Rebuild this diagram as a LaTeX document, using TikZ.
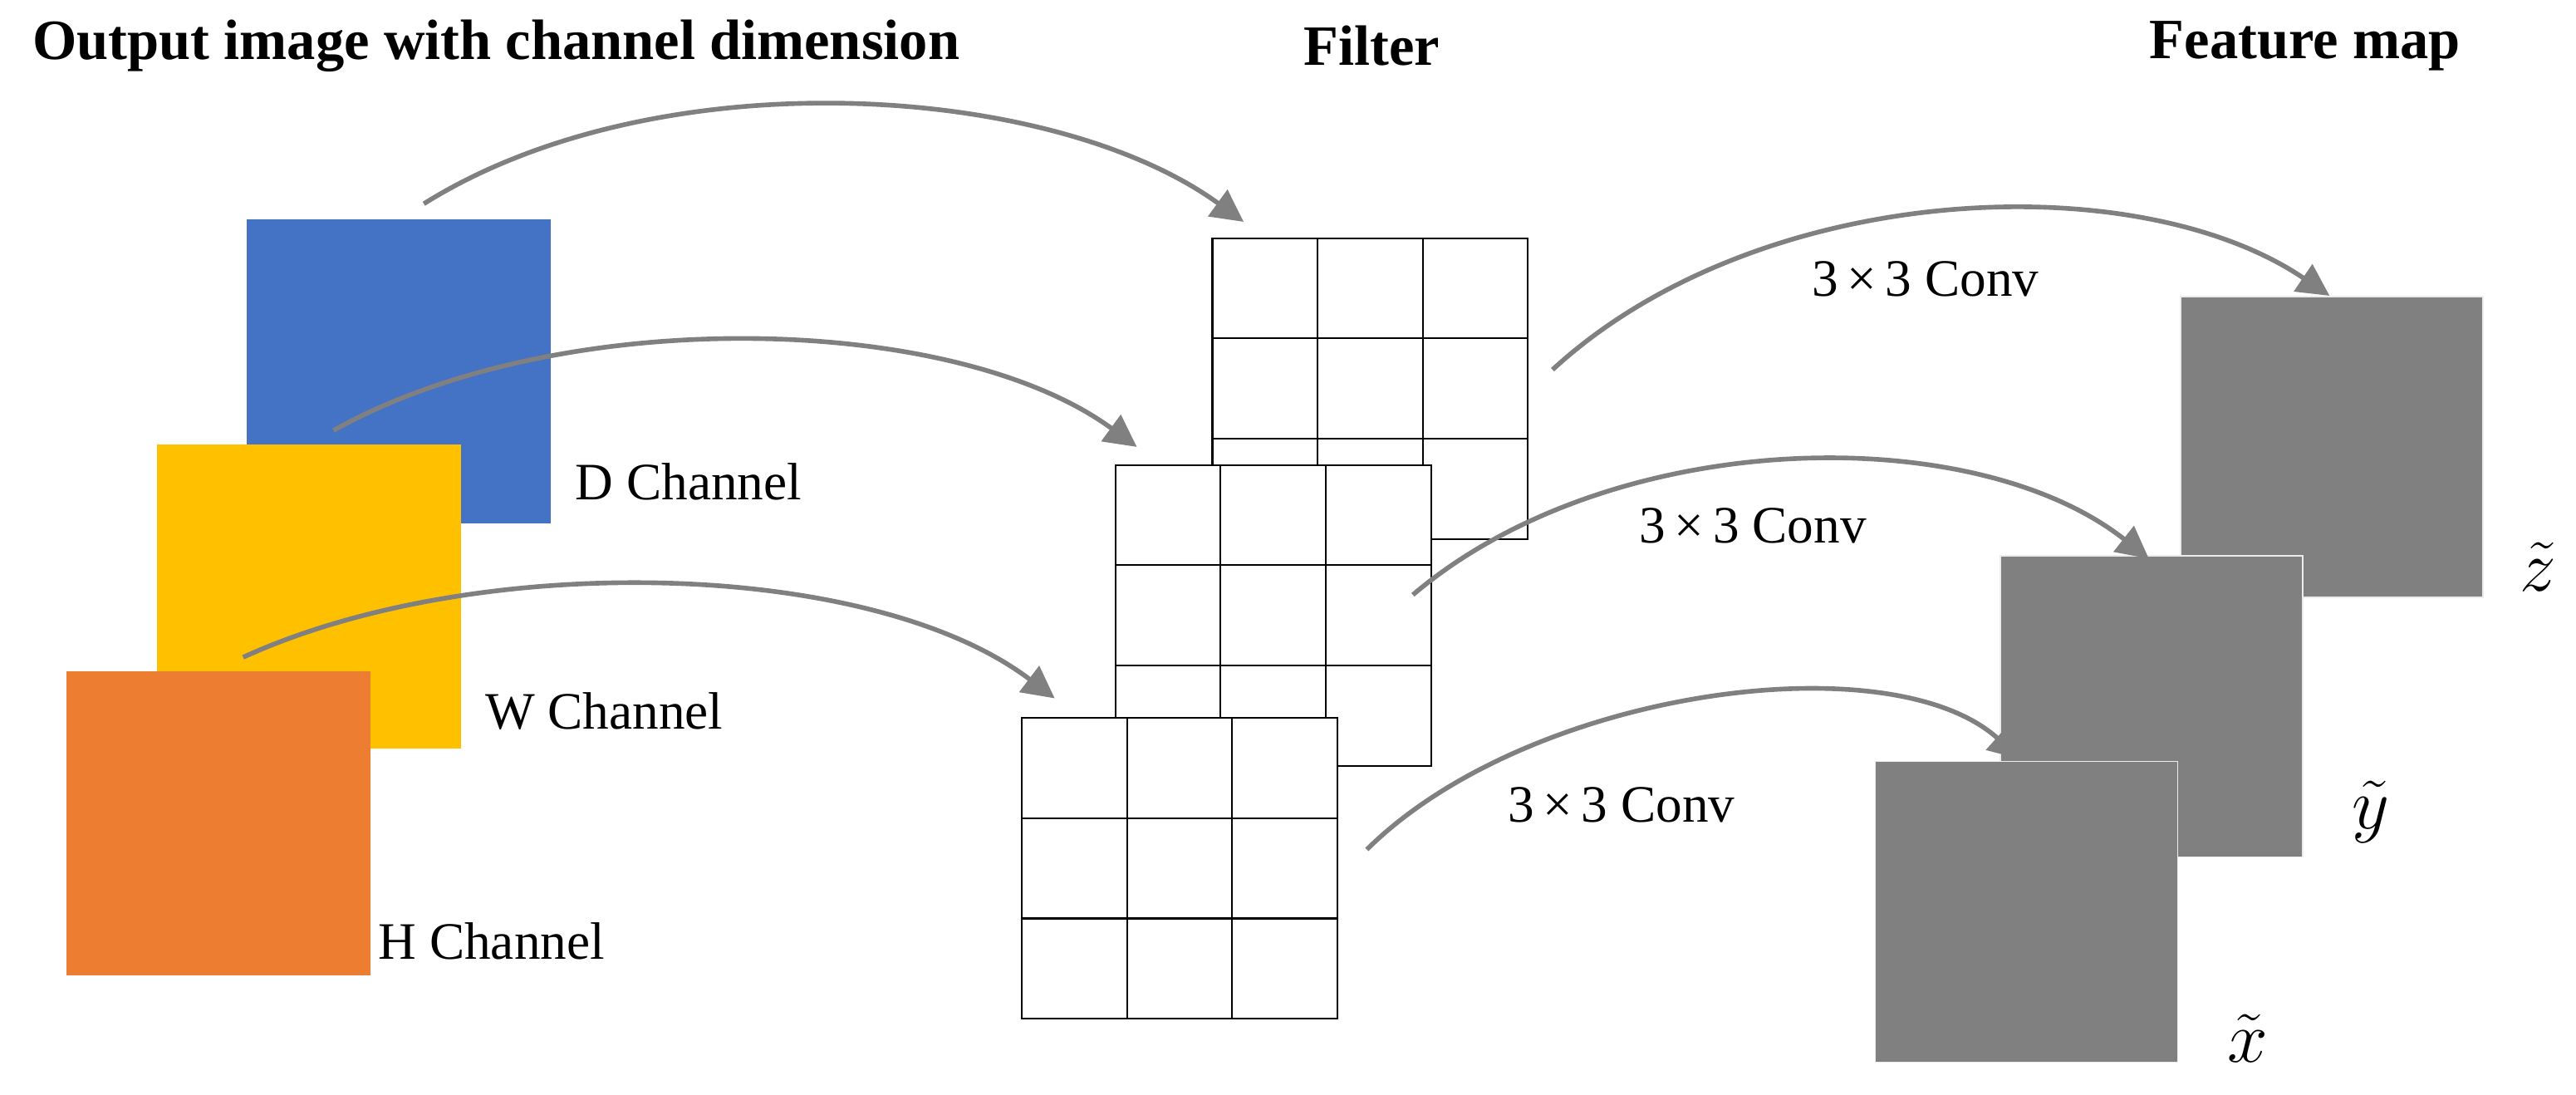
\documentclass[tikz,border=0pt]{standalone}
\usepackage{fontspec}
\setmainfont{Liberation Serif}
\usetikzlibrary{arrows.meta}
\definecolor{cblue}{HTML}{4472C4}
\definecolor{cyel}{HTML}{FFC000}
\definecolor{corg}{HTML}{ED7D31}
\definecolor{cgray}{HTML}{808080}
\begin{document}
\begin{tikzpicture}[x=0.019777cm,y=-0.019777cm,
  sq/.style={draw=none,minimum width=3.66cm,minimum height=3.66cm,inner sep=0,anchor=north west},
  gsq/.style={fill=cgray,draw=white!85!gray,line width=0.5pt,minimum width=3.64cm,minimum height=3.62cm,inner sep=0,anchor=north west},
  lbl/.style={font=\fontsize{18}{20}\selectfont,anchor=west,inner sep=0},
  ttl/.style={font=\bfseries\fontsize{19.5}{22}\selectfont,inner sep=0},
  tl/.style={font=\fontsize{26}{28}\selectfont,inner sep=0},
  arr/.style={draw=cgray,line width=1.6pt,-{Triangle[length=11pt,width=11pt,fill=cgray]}},
  grid/.style={fill=white,draw=black,line width=0.6pt}]
\useasboundingbox (0,0) rectangle (1568,666);
\node[ttl] (t1) at (302,28) {Output image with channel dimension};
\node[ttl] (t2) at (835,28) {Filter};
\node[ttl] (t3) at (1403,28) {Feature map};
\node[sq,fill=cblue] (d) at (150,133) {};
\node[sq,fill=cyel] (w) at (95,270) {};
\node[sq,fill=corg] (h) at (40,408) {};
\node[lbl] (dl) at (350,293) {D Channel};
\node[lbl] (wl) at (295,433) {W Channel};
\node[lbl] (hl) at (230,573) {H Channel};
\foreach \n/\x/\y in {g1/738/145,g2/679/283,g3/622/437}{
  \path[grid] (\x,\y) rectangle ++(192,183);
  \foreach \i in {1,2}{
    \draw[line width=0.6pt] (\x+64*\i,\y) -- ++(0,183);
    \draw[line width=0.6pt] (\x,\y+61*\i) -- ++(192,0);}
  \coordinate (\n) at (\x,\y);
}
\node[gsq] (fz) at (1327,180) {};
\node[gsq] (fy) at (1217,338) {};
\node[gsq] (fx) at (1141,463) {};
\node[tl] (lz) at (1545,345) {$\tilde{z}$};
\node[tl] (ly) at (1443,494) {$\tilde{y}$};
\node[tl] (lx) at (1368,632) {$\tilde{x}$};
\node[lbl,anchor=center] (c1) at (1172,170) {3\,\texttimes\,3 Conv};
\node[lbl,anchor=center] (c2) at (1067,320) {3\,\texttimes\,3 Conv};
\node[lbl,anchor=center] (c3) at (987,490) {3\,\texttimes\,3 Conv};
\coordinate (a1s) at (258,124); \coordinate (a1e) at (757,135);
\coordinate (a2s) at (203,262); \coordinate (a2e) at (692,272);
\coordinate (a3s) at (148,400); \coordinate (a3e) at (642,425);
\coordinate (b1s) at (945,225); \coordinate (b1e) at (1418,180);
\coordinate (b2s) at (860,362); \coordinate (b2e) at (1308,340);
\coordinate (b3s) at (832,517); \coordinate (b3e) at (1230,462);
\draw[arr] (a1s) .. controls (400,35) and (640,50) .. (a1e);
\draw[arr] (a2s) .. controls (340,185) and (580,190) .. (a2e);
\draw[arr] (a3s) .. controls (290,335) and (530,340) .. (a3e);
\draw[arr] (b1s) .. controls (1070,110) and (1300,100) .. (b1e);
\draw[arr] (b2s) .. controls (980,260) and (1200,255) .. (b2e);
\draw[arr] (b3s) .. controls (930,420) and (1150,390) .. (b3e);
\end{tikzpicture}
\end{document}
